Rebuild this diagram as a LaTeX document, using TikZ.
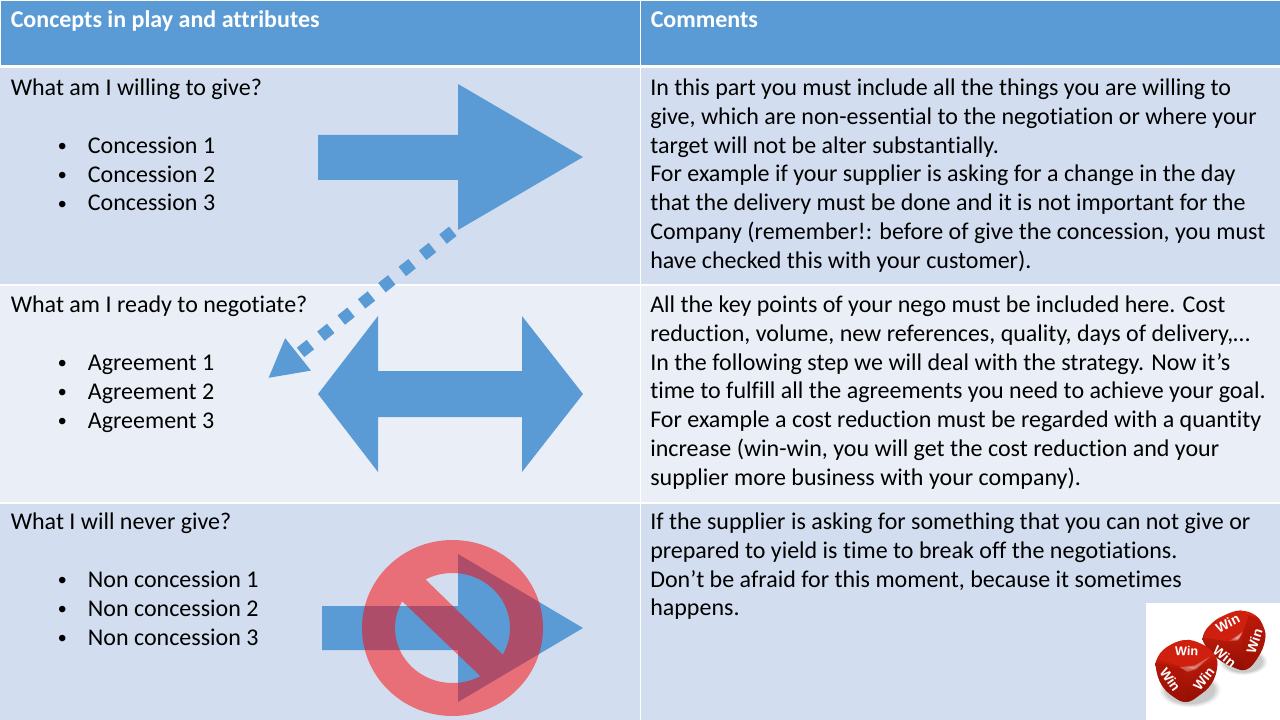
\documentclass[tikz,border=0pt]{standalone}
\usepackage{fontspec}
\setmainfont[Ligatures=NoCommon]{Carlito}
\newfontfamily\dicefont{Liberation Sans}
\usetikzlibrary{arrows.meta,shadings}
\definecolor{hdr}{HTML}{5B9BD5}
\definecolor{rowa}{HTML}{D2DEEF}
\definecolor{rowb}{HTML}{EAEFF7}
\definecolor{dietop}{HTML}{D8240F}
\definecolor{diebot}{HTML}{8E0E03}
\definecolor{diet}{HTML}{CF1F0E}
\definecolor{died}{HTML}{A81205}
\newcommand{\fl}{\rule{0pt}{15pt}}
\newcommand{\bul}[1]{\makebox[23pt][l]{\hspace{0.6pt}\raisebox{-1pt}{\dicefont\fontsize{18}{18}\selectfont•}}#1}
\tikzset{
  cell/.style={fill=#1,draw=none},
  txt/.style={anchor=north west,inner sep=0pt,align=left,text=black,font=\fontsize{18}{21.65}\selectfont},
  head/.style={txt,text=white,font=\fontsize{18}{21.65}\selectfont\bfseries},
  bigarrow/.style={fill=hdr,draw=none},
  prohibit/.style={fill=red,fill opacity=.5,draw=none,even odd rule},
  dotted link/.style={draw=hdr,line width=9pt,dash pattern=on 9.4pt off 10.1pt,
     -{Triangle[length=28.8pt,width=28.8pt,fill=hdr]}},
  win/.style={text=white,font=\dicefont\fontsize{#1}{10}\selectfont\bfseries,inner sep=0pt},
  win/.default=10.2,
  dieshade/.style={top color=dietop,bottom color=diebot,draw=none}
}
\begin{document}
\begin{tikzpicture}[x=.75pt,y=-.75pt]
\useasboundingbox (0,0) rectangle (1280,720);
\fill[white] (0,0) rectangle (1280,720);
% table cells
\fill[cell=hdr] (1,1) rectangle (639.6,65);
\fill[cell=hdr] (640.8,1) rectangle (1280,65);
\fill[cell=rowa] (0,68) rectangle (639.6,284);
\fill[cell=rowa] (640.8,68) rectangle (1280,284);
\fill[cell=rowb] (0,285.5) rectangle (639.6,502);
\fill[cell=rowb] (640.8,285.5) rectangle (1280,502);
\fill[cell=rowa] (0,503.5) rectangle (639.6,720);
\fill[cell=rowa] (640.8,503.5) rectangle (1280,720);
% header
\node[head] (h1) at (10.5,7) {\fl Concepts in play and attributes};
\node[head] (h2) at (650.5,7) {\fl Comments};
% left column
\node[txt] (q1) at (10.5,75) {\fl What am I willing to give?};
\node[txt] (l1) at (57,133) {\fl\bul{Concession 1}\\\bul{Concession 2}\\\bul{Concession 3}};
\node[txt] (q2) at (10.5,292) {\fl What am I ready to negotiate?};
\node[txt] (l2) at (57,350) {\fl\bul{Agreement 1}\\\bul{Agreement 2}\\\bul{Agreement 3}};
\node[txt] (q3) at (10.5,509) {\fl What I will never give?};
\node[txt] (l3) at (57,567) {\fl\bul{Non concession 1}\\\bul{Non concession 2}\\\bul{Non concession 3}};
% comments
\node[txt] (c1) at (650,75) {\fl In this part you must include all the things you are willing to\\
give, which are non-essential to the negotiation or where your\\
target will not be alter substantially.\\
For example if your supplier is asking for a change in the day\\
that the delivery must be done and it is not important for the\\
Company (remember!: before of give the concession, you must\\
have checked this with your customer).};
\node[txt] (c2) at (650,292) {\fl All the key points of your nego must be included here. Cost\\
reduction, volume, new references, quality, days of delivery,\dots\\
In the following step we will deal with the strategy. Now it’s\\
time to fulfill all the agreements you need to achieve your goal.\\
For example a cost reduction must be regarded with a quantity\\
increase (win-win, you will get the cost reduction and your\\
supplier more business with your company).};
\node[txt] (c3) at (650,509) {\fl If the supplier is asking for something that you can not give or\\
prepared to yield is time to break off the negotiations.\\
Don’t be afraid for this moment, because it sometimes\\
happens.};
% arrows
\fill[bigarrow] (318,135) -- (458,135) -- (458,84) -- (583,157) -- (458,230) -- (458,180) -- (318,180) -- cycle;
\fill[bigarrow] (318,394) -- (378,316) -- (378,371) -- (522,371) -- (522,316) -- (583,394) -- (522,472) -- (522,417) -- (378,417) -- (378,472) -- cycle;
\fill[bigarrow] (322,606) -- (458,606) -- (458,554) -- (583,628) -- (458,702) -- (458,650) -- (322,650) -- cycle;
% dotted connector
\coordinate (ds) at (452.8,231.3);
\coordinate (de) at (268,378.3);
\draw[dotted link] (ds) -- (de);
% prohibition sign
\path[prohibit] (452.5,628) ellipse [x radius=90.5,y radius=88]
  plot[domain=118:-29,samples=50] ({452.5+57.5*cos(\x)},{628-55*sin(\x)}) -- cycle
  plot[domain=151:299,samples=50] ({452.5+57.5*cos(\x)},{628-55*sin(\x)}) -- cycle;
% picture
\fill[white] (1146,603) rectangle (1280,720);
\begin{scope}[shift={(1130,590)},x=.25pt,y=-.25pt]
  % shadows
  \foreach \r/\o in {1/.04,.94/.05,.88/.06,.82/.07}{
    \fill[black,opacity=\o] (180,300) ellipse [x radius=92*\r,y radius=52*\r];
    \fill[black,opacity=\o] (340,215) ellipse [x radius=72*\r,y radius=40*\r];
  }
  % back die
  \path[dieshade] plot[smooth cycle,tension=.7] coordinates {(330,62)(375,75)(400,110)(405,150)(385,200)(350,238)(310,232)(262,205)(225,165)(220,135)(245,100)(285,75)};
  \begin{scope}
    \clip plot[smooth cycle,tension=.7] coordinates {(330,62)(375,75)(400,110)(405,150)(385,200)(350,238)(310,232)(262,205)(225,165)(220,135)(245,100)(285,75)};
    \fill[died,opacity=.55] (352,75) -- (420,90) -- (420,250) -- (345,250) -- (335,150) -- cycle;
    \fill[diet] (225,125) -- (330,55) -- (355,80) -- (335,135) -- (300,155) -- (222,142) -- cycle;
    \fill[white,opacity=.3] (300,152) -- (338,125) -- (322,152) -- cycle;
    \fill[white,opacity=.4] (312,148) -- (336,130) -- (326,148) -- cycle;
  \end{scope}
  % front die
  \path[dieshade] plot[smooth cycle,tension=.7] coordinates {(165,150)(215,162)(250,190)(262,225)(245,280)(205,318)(168,336)(130,320)(95,285)(78,235)(82,205)(110,172)};
  \begin{scope}
    \clip plot[smooth cycle,tension=.7] coordinates {(165,150)(215,162)(250,190)(262,225)(245,280)(205,318)(168,336)(130,320)(95,285)(78,235)(82,205)(110,172)};
    \fill[diet] (165,145) -- (265,190) -- (190,232) -- (160,232) -- (70,205) -- (105,165) -- cycle;
    \fill[died,opacity=.45] (70,215) -- (160,238) -- (172,345) -- (70,345) -- cycle;
    \fill[died,opacity=.3] (195,238) -- (270,200) -- (270,340) -- (172,345) -- cycle;
    \fill[white,opacity=.3] (150,232) -- (195,226) -- (240,200) -- (198,238) -- (172,245) -- cycle;
    \fill[white,opacity=.35] (165,234) -- (196,230) -- (215,220) -- (192,236) -- cycle;
  \end{scope}
  % labels
  \node[win,rotate=27] (w1) at (293,100) {Win};
  \node[win,rotate=-38] (w2) at (284,200) {Win};
  \node[win,rotate=72] (w3) at (373,154) {Win};
  \node[win=9.5,rotate=-2] (w4) at (170,183) {Win};
  \node[win,rotate=-55] (w5) at (121,269) {Win};
  \node[win,rotate=52] (w6) at (221,266) {Win};
\end{scope}
\end{tikzpicture}
\end{document}
